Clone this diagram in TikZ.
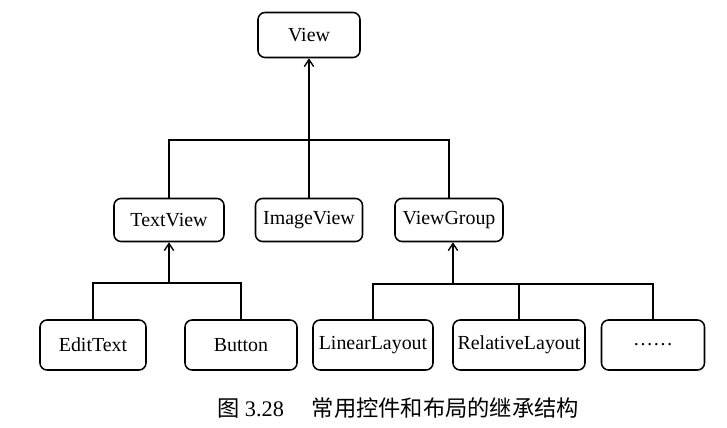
\documentclass[tikz,border=0pt]{standalone}
\usepackage{fontspec}
\usetikzlibrary{arrows.meta}
\setmainfont{Liberation Serif}
\newfontfamily\cjk{Noto Sans CJK SC}
\begin{document}
\begin{tikzpicture}[x=0.03cm,y=-0.03cm,
  box/.style={draw,line width=1.3pt,rounded corners=6pt,inner sep=0pt,font=\fontsize{17}{19}\selectfont},
  ln/.style={line width=1.2pt},
  ar/.style={line width=1.2pt,-{Straight Barb[length=6pt,width=8pt]}}]
\useasboundingbox (0,0) rectangle (727,428);
\node[box,minimum width=102*0.03cm,minimum height=45*0.03cm] (view) at (309,35) {View};
\node[box,minimum width=110*0.03cm,minimum height=43*0.03cm] (tv) at (169,220) {TextView};
\node[box,minimum width=107*0.03cm,minimum height=43*0.03cm] (iv) at (309,220) {ImageView};
\node[box,minimum width=108*0.03cm,minimum height=43*0.03cm] (vg) at (449,220) {ViewGroup};
\node[box,minimum width=106*0.03cm,minimum height=50*0.03cm] (et) at (93,345) {EditText};
\node[box,minimum width=112*0.03cm,minimum height=50*0.03cm] (bt) at (241,345) {Button};
\node[box,minimum width=120*0.03cm,minimum height=50*0.03cm] (ll) at (373,345) {LinearLayout};
\node[box,minimum width=132*0.03cm,minimum height=50*0.03cm] (rl) at (519,345) {RelativeLayout};
\node[box,minimum width=103*0.03cm,minimum height=50*0.03cm] (dd) at (653,345) {\ldots\ldots};
\coordinate (j1) at (309,140);
\coordinate (j2) at (169,283);
\coordinate (j3) at (453,284);
\draw[ar] (j1) -- (view.south);
\draw[ln] (tv.north) |- (j1) -| (vg.north);
\draw[ln] (iv.north) -- (j1);
\draw[ar] (j2) -- (tv.south);
\draw[ln] (et.north) |- (j2) -| (bt.north);
\draw[ar] (j3) -- (vg.south -| j3);
\draw[ln] (ll.north) |- (j3) -| (dd.north);
\draw[ln] (rl.north) -- (rl.north |- j3);
\node[font=\fontsize{19}{21}\selectfont] (cap) at (398,408) {{\cjk 图} 3.28\quad\ {\cjk 常用控件和布局的继承结构}};
\end{tikzpicture}
\end{document}
